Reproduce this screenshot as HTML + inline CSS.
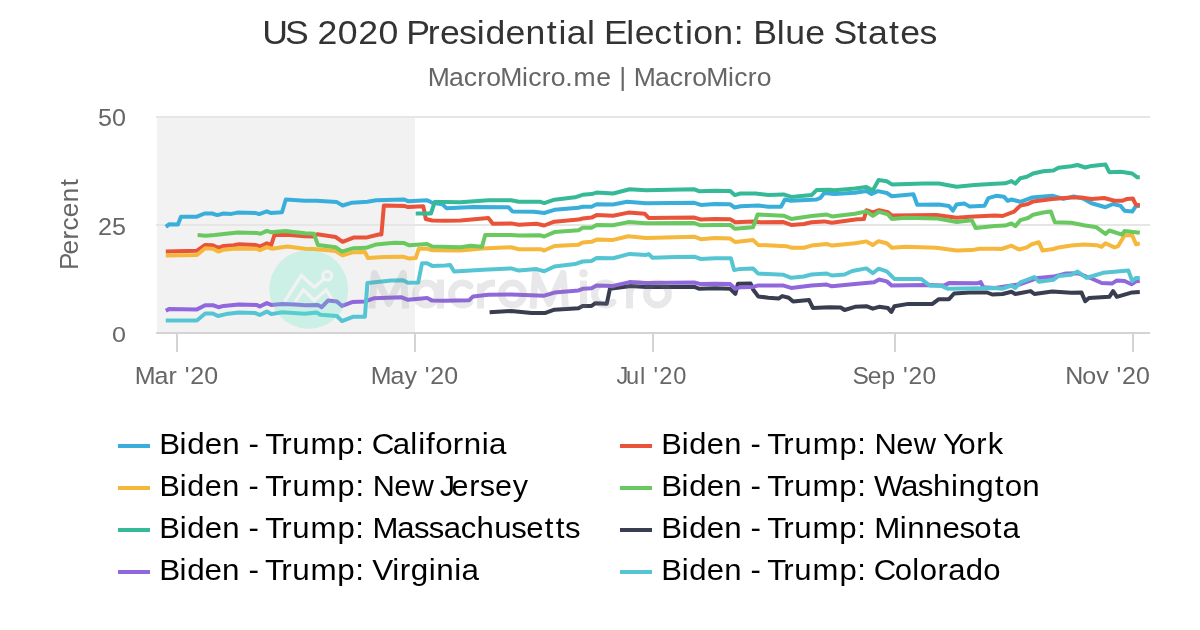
<!DOCTYPE html><html><head><meta charset="utf-8"><style>html,body{margin:0;padding:0;background:#fff;width:1200px;height:630px;overflow:hidden}svg{display:block;will-change:transform}</style></head><body>
<svg width="1200" height="630" viewBox="0 0 1200 630" style="font-family:'Liberation Sans', sans-serif">
<rect x="0" y="0" width="1200" height="630" fill="#ffffff"/>
<rect x="157" y="117" width="258" height="216" fill="#f2f2f2"/>
<path d="M156 117 H1150 M156 225 H1150" stroke="#e6e6e6" stroke-width="2" fill="none"/>
<path d="M156 333 H1150" stroke="#d4d4d4" stroke-width="2" fill="none"/>
<path d="M177 333 V352 M415 333 V352 M653 333 V352 M895 333 V352 M1133 333 V352" stroke="#d4d4d4" stroke-width="2" fill="none"/>
<path d="M165.8 226.8 L169.0 224.3 L177.9 224.5 L181.0 216.7 L196.9 216.7 L204.5 213.5 L212.2 213.5 L217.2 215.1 L223.6 213.5 L231.2 213.9 L237.6 212.6 L255.3 212.9 L259.2 214.1 L266.8 211.3 L271.2 213.1 L282.0 212.2 L285.8 199.5 L305.0 200.8 L316.6 200.8 L336.9 202.1 L342.6 205.5 L352.2 202.7 L367.4 201.7 L376.3 200.2 L404.2 199.5 L408.0 201.2 L427.1 200.2 L432.2 202.7 L442.6 204.4 L446.4 208.2 L473.1 206.9 L508.7 207.3 L512.5 211.5 L534.1 211.8 L544.2 213.0 L554.4 209.8 L578.5 207.7 L582.6 206.8 L591.5 206.8 L596.6 204.3 L613.1 204.5 L627.1 201.8 L646.1 203.3 L694.4 202.8 L700.7 204.9 L715.0 204.0 L730.2 204.3 L734.7 207.5 L740.4 206.2 L758.2 205.6 L768.3 206.8 L781.0 206.8 L784.9 199.5 L791.2 200.7 L816.6 199.5 L820.4 197.9 L824.2 193.1 L834.4 193.9 L855.0 192.8 L866.4 191.1 L871.5 194.0 L877.9 191.1 L886.8 193.0 L891.8 196.2 L913.4 194.3 L917.2 204.7 L938.8 204.5 L949.0 206.0 L952.8 210.6 L956.6 204.5 L964.2 203.4 L969.3 206.4 L984.6 205.7 L988.4 198.1 L996.0 195.8 L1003.9 196.7 L1007.7 200.8 L1011.5 199.5 L1020.4 201.8 L1031.8 197.6 L1052.2 195.7 L1063.6 198.9 L1073.8 196.4 L1083.9 198.9 L1091.5 203.3 L1105.5 207.2 L1113.1 204.0 L1120.7 205.9 L1124.6 210.7 L1132.2 211.6 L1136.0 205.9 L1139.8 205.9" stroke="#3aaedb" stroke-width="4.0" fill="none" stroke-linejoin="round" stroke-linecap="butt"/>
<path d="M165.8 251.6 L196.9 250.7 L205.2 244.9 L212.8 245.2 L218.5 247.8 L223.6 245.9 L233.7 245.2 L238.8 244.3 L255.3 244.9 L259.8 246.5 L266.8 243.3 L271.2 245.2 L274.4 235.1 L287.1 234.7 L305.0 236.3 L312.8 236.4 L317.2 234.2 L335.6 237.0 L342.6 241.8 L353.4 237.6 L366.1 237.6 L378.8 234.5 L381.4 234.5 L383.9 205.5 L404.2 205.9 L408.0 207.1 L423.3 206.3 L425.8 219.0 L432.2 220.5 L445.0 220.7 L460.4 220.4 L488.3 217.9 L492.8 223.8 L511.2 223.4 L518.8 224.7 L536.6 223.8 L544.2 225.5 L554.4 221.7 L578.5 219.6 L582.6 218.5 L591.5 217.6 L596.6 215.1 L613.1 215.7 L628.3 212.6 L644.9 213.8 L648.7 218.0 L694.4 217.6 L700.7 219.5 L715.0 218.9 L730.2 219.3 L735.3 222.3 L753.1 221.4 L760.7 222.3 L783.6 222.1 L791.2 224.9 L803.9 224.0 L811.5 222.3 L824.2 221.4 L831.9 222.7 L857.3 219.3 L863.9 219.1 L866.4 210.2 L872.8 212.3 L879.1 210.2 L888.0 212.3 L891.8 215.6 L936.3 214.9 L956.6 217.8 L974.4 216.5 L995.0 215.4 L1002.6 216.0 L1014.1 211.6 L1020.4 205.6 L1028.0 204.0 L1033.1 201.4 L1052.2 198.9 L1071.2 197.6 L1081.4 197.6 L1091.5 198.9 L1104.2 198.0 L1114.4 200.8 L1122.0 200.8 L1127.1 198.9 L1132.8 198.5 L1136.0 204.9 L1139.8 204.9" stroke="#e8533a" stroke-width="4.0" fill="none" stroke-linejoin="round" stroke-linecap="butt"/>
<path d="M165.8 255.4 L196.9 255.0 L205.2 248.2 L212.8 248.7 L218.5 251.6 L223.6 249.7 L236.3 248.4 L256.6 248.7 L259.8 250.3 L266.8 247.1 L271.9 248.7 L287.1 246.5 L305.0 248.7 L314.0 249.1 L335.6 251.0 L342.6 255.4 L353.4 252.2 L364.9 252.0 L368.0 258.0 L383.9 257.1 L403.0 256.7 L409.3 258.6 L415.7 258.0 L418.8 248.7 L427.1 248.7 L432.2 250.3 L460.4 250.5 L482.0 248.6 L511.2 247.3 L518.8 249.2 L540.4 249.2 L544.2 250.5 L554.4 246.0 L578.5 244.8 L582.6 242.4 L591.5 241.8 L596.6 239.6 L613.1 239.9 L628.3 236.3 L646.1 238.0 L694.4 236.7 L700.7 239.2 L715.0 238.0 L730.2 238.6 L735.3 242.1 L753.1 240.1 L758.2 244.9 L786.1 246.2 L791.2 247.7 L803.9 247.7 L811.5 245.6 L826.8 243.9 L831.9 245.6 L855.0 243.3 L866.4 241.4 L872.8 245.0 L878.5 241.2 L886.8 243.3 L891.8 247.8 L905.8 246.8 L936.3 247.8 L956.6 250.6 L971.9 250.1 L979.5 248.8 L995.0 248.7 L1001.4 249.0 L1011.5 245.7 L1019.1 249.5 L1026.8 247.4 L1031.8 244.2 L1038.8 242.3 L1042.6 250.6 L1053.4 249.0 L1058.5 247.4 L1071.2 245.5 L1083.9 244.5 L1096.6 245.2 L1101.7 246.8 L1105.5 243.2 L1114.4 247.4 L1118.2 246.1 L1124.6 235.3 L1132.2 235.3 L1136.0 244.2 L1139.8 243.6" stroke="#f5b73c" stroke-width="4.0" fill="none" stroke-linejoin="round" stroke-linecap="butt"/>
<path d="M197.6 235.1 L205.8 235.7 L214.7 235.1 L237.6 232.5 L256.6 232.9 L260.4 233.8 L266.8 230.9 L270.6 232.2 L285.8 230.9 L293.4 231.9 L305.0 233.2 L314.0 233.8 L317.9 244.9 L335.6 247.2 L342.0 251.6 L353.4 248.2 L366.1 247.8 L376.3 244.4 L394.1 242.7 L404.2 243.1 L409.3 245.3 L427.1 244.0 L432.2 246.5 L460.4 247.3 L470.6 245.8 L482.0 246.7 L485.2 234.9 L511.2 234.9 L518.8 235.6 L540.4 235.3 L544.2 236.5 L554.4 232.1 L578.5 230.2 L582.6 227.8 L591.5 227.8 L596.6 224.9 L613.1 225.3 L628.3 222.1 L646.1 223.3 L694.4 223.1 L700.7 225.3 L715.0 224.9 L730.2 224.9 L734.7 228.7 L753.1 227.2 L757.6 214.5 L783.6 215.7 L791.2 218.9 L811.5 216.0 L826.8 214.5 L831.9 216.4 L855.0 213.8 L866.4 211.4 L872.8 215.9 L879.1 211.8 L888.0 214.4 L891.8 219.1 L905.8 217.8 L936.3 218.4 L956.6 222.0 L971.9 220.3 L975.7 228.0 L994.7 226.0 L1005.2 225.6 L1011.5 223.4 L1015.3 226.2 L1020.4 220.1 L1028.0 218.0 L1033.1 214.8 L1043.3 212.5 L1050.9 211.6 L1054.7 222.2 L1071.2 222.7 L1083.9 225.3 L1096.6 227.3 L1105.5 234.0 L1109.3 230.5 L1122.0 234.7 L1124.6 230.9 L1139.8 232.8" stroke="#69c960" stroke-width="4.0" fill="none" stroke-linejoin="round" stroke-linecap="butt"/>
<path d="M415.7 213.5 L430.9 213.5 L434.7 202.1 L445.0 202.1 L460.4 202.2 L488.3 200.3 L511.2 200.3 L518.8 201.8 L540.4 201.8 L544.2 203.1 L554.4 199.7 L575.0 197.3 L582.6 194.8 L591.5 194.1 L596.6 192.6 L613.1 193.5 L629.6 189.3 L646.1 190.3 L694.4 189.3 L699.5 191.3 L715.0 190.8 L730.2 191.0 L734.7 195.1 L740.4 193.5 L755.6 193.5 L768.3 195.1 L783.6 194.4 L791.2 196.9 L811.5 195.1 L816.6 190.1 L829.3 189.7 L834.4 190.3 L855.0 188.6 L866.4 186.9 L872.8 190.5 L878.5 180.1 L886.8 181.3 L891.8 184.4 L923.6 183.5 L938.8 183.5 L956.6 186.7 L974.4 185.1 L995.0 183.7 L1005.2 183.3 L1011.5 181.1 L1015.3 183.7 L1020.4 178.2 L1026.8 176.7 L1033.1 173.5 L1043.3 171.3 L1053.4 170.6 L1058.5 167.8 L1071.2 166.3 L1077.6 165.0 L1085.2 167.5 L1091.5 165.9 L1105.5 164.6 L1109.3 172.2 L1120.7 171.8 L1132.2 173.5 L1137.3 177.3 L1139.8 177.3" stroke="#36b996" stroke-width="4.0" fill="none" stroke-linejoin="round" stroke-linecap="butt"/>
<path d="M489.6 312.2 L511.2 311.0 L531.5 312.9 L545.5 312.9 L554.4 309.7 L578.5 308.2 L582.6 306.0 L591.5 306.0 L595.3 303.2 L606.8 303.7 L609.9 288.8 L630.9 285.9 L646.1 286.9 L694.4 286.9 L699.5 288.8 L715.0 288.2 L730.2 288.8 L735.3 293.9 L737.9 283.7 L750.6 283.4 L753.1 289.5 L758.2 296.4 L768.3 297.7 L778.5 298.6 L782.3 296.1 L788.7 297.7 L793.1 301.5 L809.0 299.9 L812.8 307.9 L829.3 307.2 L840.7 307.5 L844.6 310.0 L855.0 306.8 L866.4 306.2 L872.8 308.7 L879.1 306.8 L888.0 308.1 L891.3 312.0 L894.4 306.2 L908.3 303.9 L932.5 303.9 L938.8 299.2 L949.0 299.2 L954.1 293.5 L969.3 292.5 L987.1 292.5 L992.2 294.5 L1002.6 294.0 L1011.5 291.8 L1015.3 294.0 L1030.6 291.1 L1034.4 294.0 L1052.2 291.5 L1071.2 292.8 L1081.4 292.4 L1085.2 301.3 L1089.0 297.9 L1109.3 296.8 L1113.1 291.1 L1116.9 296.8 L1132.2 292.4 L1139.8 292.0" stroke="#393d50" stroke-width="4.0" fill="none" stroke-linejoin="round" stroke-linecap="butt"/>
<path d="M165.8 310.7 L169.0 309.1 L196.9 309.4 L205.2 305.3 L213.4 305.3 L218.5 307.2 L223.6 305.9 L238.8 304.4 L256.6 304.9 L259.8 306.5 L266.8 303.1 L271.2 304.9 L282.0 304.0 L294.7 304.4 L305.0 305.2 L317.9 304.9 L321.7 307.2 L328.0 300.6 L336.9 301.4 L342.0 305.9 L352.2 302.1 L364.9 301.4 L373.8 298.3 L401.7 297.3 L408.0 299.8 L427.1 298.0 L432.2 300.6 L445.0 300.8 L469.3 300.2 L473.1 296.4 L488.3 294.7 L511.2 294.5 L544.2 295.7 L554.4 292.6 L578.5 290.4 L582.6 288.8 L591.5 288.2 L596.6 285.4 L613.1 285.9 L629.6 282.1 L646.1 283.1 L694.4 282.5 L700.7 284.1 L715.0 283.7 L730.2 284.1 L735.3 288.8 L740.4 287.2 L753.1 286.9 L758.2 285.4 L783.6 285.6 L791.2 287.9 L811.5 285.6 L826.8 284.6 L831.9 286.3 L855.0 284.0 L874.1 282.3 L879.1 279.5 L886.8 281.4 L891.8 285.6 L926.1 284.9 L943.9 285.6 L949.0 283.1 L976.9 283.3 L980.7 282.1 L983.3 287.2 L995.0 288.0 L1020.4 284.2 L1038.2 277.9 L1053.4 276.6 L1066.1 273.4 L1077.6 273.2 L1091.5 278.5 L1101.7 283.0 L1111.9 283.6 L1117.0 280.4 L1124.6 281.0 L1131.5 284.2 L1136.0 281.3 L1139.8 281.0" stroke="#9067dd" stroke-width="4.0" fill="none" stroke-linejoin="round" stroke-linecap="butt"/>
<path d="M165.8 320.5 L196.9 320.5 L205.2 313.5 L212.8 313.5 L217.9 316.0 L226.1 314.1 L238.8 312.5 L255.3 313.1 L259.8 315.0 L266.8 311.6 L271.2 314.1 L282.0 312.2 L305.0 313.8 L316.6 312.5 L320.4 314.8 L336.9 316.0 L342.0 321.1 L353.4 316.7 L364.9 316.7 L367.4 283.0 L391.5 280.5 L403.0 280.2 L408.0 282.8 L418.2 282.4 L422.0 263.3 L427.1 263.3 L432.2 265.9 L445.0 265.5 L450.2 265.0 L454.1 271.6 L483.3 269.7 L511.2 268.4 L518.8 270.6 L536.6 269.1 L544.2 271.3 L554.4 266.5 L575.0 264.1 L582.6 261.5 L591.5 260.9 L596.6 258.0 L613.1 258.3 L629.6 253.9 L646.1 254.9 L648.7 254.1 L652.5 257.7 L676.6 257.1 L694.4 256.7 L700.7 259.0 L715.0 258.2 L730.9 258.3 L734.1 270.1 L740.4 268.9 L753.1 268.5 L758.2 273.6 L783.6 274.8 L791.2 277.8 L803.9 276.5 L811.5 274.5 L826.8 273.6 L831.9 275.5 L844.6 274.5 L852.2 271.0 L866.4 268.4 L872.8 273.2 L878.5 268.7 L886.8 271.3 L894.4 278.9 L921.0 278.9 L929.9 285.6 L941.4 285.9 L947.7 288.7 L979.5 288.2 L995.0 288.0 L1002.6 288.7 L1011.5 285.5 L1015.3 288.0 L1020.4 282.3 L1034.4 277.0 L1038.8 281.7 L1053.4 279.8 L1058.5 276.0 L1071.2 274.7 L1077.6 271.5 L1086.5 277.9 L1092.8 276.0 L1103.0 272.8 L1128.4 270.6 L1132.2 281.0 L1136.0 277.9 L1139.8 277.9" stroke="#55c5d3" stroke-width="4.0" fill="none" stroke-linejoin="round" stroke-linecap="butt"/>
<defs><mask id="icm" maskUnits="userSpaceOnUse" x="260" y="240" width="100" height="100"><rect x="260" y="240" width="100" height="100" fill="#fff"/><path d="M284.6 301.7 L301.3 275.4 L314.3 287.2 L323.5 279.2 M294.9 302.4 L303.3 289.9 L314.3 300.2 L326.1 289.9 L332.7 300.2" stroke="#000" stroke-width="3.3" fill="none" stroke-linejoin="miter" stroke-linecap="butt"/><circle cx="327.3" cy="275.7" r="4.4" stroke="#000" stroke-width="3.3" fill="none"/></mask></defs><circle cx="308.7" cy="289.3" r="39.4" fill="rgb(90,230,194)" fill-opacity="0.25" mask="url(#icm)"/><g opacity="0.17" stroke="#7a7e86" stroke-width="7.0" fill="none"><path d="M371.9 308.5 L374.4 273.5 L388.8 303.5 L403.2 273.5 L405.7 308.5" stroke-linejoin="round" stroke-linecap="butt"/><circle cx="426.5" cy="294.00" r="11.00"/><path d="M440.5 279.5 V308.5"/><path d="M469.86 285.83 A11.00 11.00 0 1 0 469.86 302.17" stroke-linecap="round"/><path d="M480.5 308.5 V283.5"/><path d="M480.5 296.0 Q480.5 283.0 495.0 283.0" stroke-linecap="butt"/><circle cx="512.4" cy="294.00" r="11.00"/><path d="M533.0 308.5 L535.5 273.5 L549.2 303.5 L563.0 273.5 L565.5 308.5" stroke-linejoin="round" stroke-linecap="butt"/><path d="M583.5 280.5 V308.5"/><circle cx="583.5" cy="273.2" r="4.3" fill="#7a7e86" stroke="none"/><path d="M612.86 285.83 A11.00 11.00 0 1 0 612.86 302.17" stroke-linecap="round"/><path d="M629.5 308.5 V283.5"/><path d="M629.5 296.0 Q629.5 283.0 641.0 283.0" stroke-linecap="butt"/><circle cx="657.5" cy="294.00" r="11.00"/></g>
<path d="M118 446 H150" stroke="#3aaedb" stroke-width="4" fill="none"/>
<path d="M118 488 H150" stroke="#f5b73c" stroke-width="4" fill="none"/>
<path d="M118 530 H150" stroke="#36b996" stroke-width="4" fill="none"/>
<path d="M118 572 H150" stroke="#9067dd" stroke-width="4" fill="none"/>
<path d="M620 446 H652" stroke="#e8533a" stroke-width="4" fill="none"/>
<path d="M620 488 H652" stroke="#69c960" stroke-width="4" fill="none"/>
<path d="M620 530 H652" stroke="#393d50" stroke-width="4" fill="none"/>
<path d="M620 572 H652" stroke="#55c5d3" stroke-width="4" fill="none"/>
<text transform="translate(263.33 44.00) scale(1.0811 1)" x="-1.07 20.07 40.57 50.10 68.94 87.77 106.60 125.31 132.26 152.19 163.38 181.12 197.51 205.52 224.02 242.50 262.27 273.11 280.78 299.46 307.36 315.01 335.79 343.51 361.68 379.28 390.11 397.77 416.21 435.17 444.85 453.29 474.88 482.88 501.36 519.76 527.44 549.05 559.34 578.79 589.11 606.86" y="0" font-size="32.96" fill="#333333">US 2020 Presidential Election: Blue States</text>
<text transform="translate(428.42 86.00) scale(1.0637 1)" x="-0.66 19.44 33.25 45.92 54.43 67.61 88.10 93.97 106.65 114.96 128.71 136.36 157.75 171.75 179.36 186.51 192.92 213.02 226.82 239.51 248.01 261.19 281.68 287.55 300.23 308.74" y="0" font-size="24.96" fill="#666666">MacroMicro.me | MacroMicro</text>
<text transform="translate(98.00 126.40) scale(1.0947 1)" x="-0.00 12.78" y="0" font-size="22.99" fill="#666666">50</text>
<text transform="translate(98.00 235.40) scale(1.0947 1)" x="-0.00 12.78" y="0" font-size="22.99" fill="#666666">25</text>
<text transform="translate(112.00 342.40) scale(1.0940 1)" x="0.00" y="0" font-size="22.99" fill="#666666">0</text>
<text transform="translate(135.73 384.00) scale(1.0718 1)" x="-0.85 17.50 30.62 38.75 45.85 50.93 63.99" y="0" font-size="23.32" fill="#666666">Mar &#39;20</text>
<text transform="translate(371.73 384.00) scale(1.0695 1)" x="-0.84 17.55 30.60 42.54 49.66 54.78 67.86" y="0" font-size="23.32" fill="#666666">May &#39;20</text>
<text transform="translate(619.20 384.00) scale(1.0138 1)" x="-2.62 6.79 20.56 26.39 33.83 39.46 53.27" y="0" font-size="23.32" fill="#666666">Jul &#39;20</text>
<text transform="translate(853.75 384.00) scale(1.0531 1)" x="-1.15 13.20 26.25 39.45 46.66 51.92 65.20" y="0" font-size="23.32" fill="#666666">Sep &#39;20</text>
<text transform="translate(1066.02 384.00) scale(1.0722 1)" x="-0.74 15.13 28.13 40.06 47.15 52.24 65.30" y="0" font-size="23.32" fill="#666666">Nov &#39;20</text>
<text transform="translate(160.00 454.00) scale(1.0859 1)" x="-0.77 18.06 25.01 41.13 57.23 73.51 81.47 91.27 96.83 111.58 121.82 138.58 163.30 179.85 188.28 194.99 214.28 230.57 237.74 245.06 253.47 269.65 279.68 296.24 302.91" y="0" font-size="28.84" fill="#000000">Biden - Trump: California</text>
<text transform="translate(160.00 496.00) scale(1.0603 1)" x="-0.55 18.58 25.81 42.32 58.81 75.38 83.55 93.56 99.37 114.39 124.96 142.21 167.43 184.28 192.93 200.60 220.99 237.51 258.92 263.80 275.01 291.79 301.68 315.88 332.63" y="0" font-size="28.84" fill="#000000">Biden - Trump: New Jersey</text>
<text transform="translate(160.00 538.00) scale(1.0792 1)" x="-0.71 18.20 25.22 41.44 57.64 74.00 82.01 91.86 97.49 112.31 122.63 139.52 164.37 180.99 189.48 196.80 219.93 235.45 248.97 262.86 278.76 293.30 309.74 325.54 339.47 356.54 366.72 375.36" y="0" font-size="28.84" fill="#000000">Biden - Trump: Massachusetts</text>
<text transform="translate(160.00 580.00) scale(1.0894 1)" x="-0.80 18.00 24.91 40.97 57.02 73.27 81.20 90.96 96.50 111.21 121.41 138.10 162.75 179.26 187.67 194.92 213.15 220.18 230.18 246.73 253.63 270.15 276.78" y="0" font-size="28.84" fill="#000000">Biden - Trump: Virginia</text>
<text transform="translate(662.00 454.00) scale(1.0710 1)" x="-0.64 18.36 25.47 41.82 58.14 74.59 82.68 92.59 98.30 113.20 123.63 140.68 165.69 182.41 190.97 198.50 218.72 235.05 256.57 262.42 276.95 293.53 304.08" y="0" font-size="28.84" fill="#000000">Biden - Trump: New York</text>
<text transform="translate(662.00 496.00) scale(1.0849 1)" x="-0.76 18.08 25.04 41.17 57.29 73.58 81.55 91.35 96.92 111.68 121.94 138.71 163.45 180.01 188.46 195.43 220.32 235.77 249.85 266.43 273.38 289.75 307.01 315.95 332.03" y="0" font-size="28.84" fill="#000000">Biden - Trump: Washington</text>
<text transform="translate(662.00 538.00) scale(1.0839 1)" x="-0.75 18.10 25.07 41.22 57.35 73.65 81.63 91.44 97.02 111.79 122.06 138.85 163.61 180.18 188.64 195.89 219.42 226.38 242.75 258.89 274.37 288.19 305.17 314.13" y="0" font-size="28.84" fill="#000000">Biden - Trump: Minnesota</text>
<text transform="translate(662.00 580.00) scale(1.0776 1)" x="-0.70 18.23 25.27 41.51 57.73 74.11 82.14 92.00 97.64 112.48 122.82 139.74 164.62 181.26 189.76 196.57 215.97 232.34 239.09 255.59 265.68 281.89 298.09" y="0" font-size="28.84" fill="#000000">Biden - Trump: Colorado</text>
<text transform="translate(77.5 223) rotate(-90) translate(-45.16 0) scale(1.0301 1)" x="-1.87 13.30 27.85 36.66 49.51 64.06 79.56" y="0" font-size="25.44" fill="#666666">Percent</text>
</svg></body></html>
